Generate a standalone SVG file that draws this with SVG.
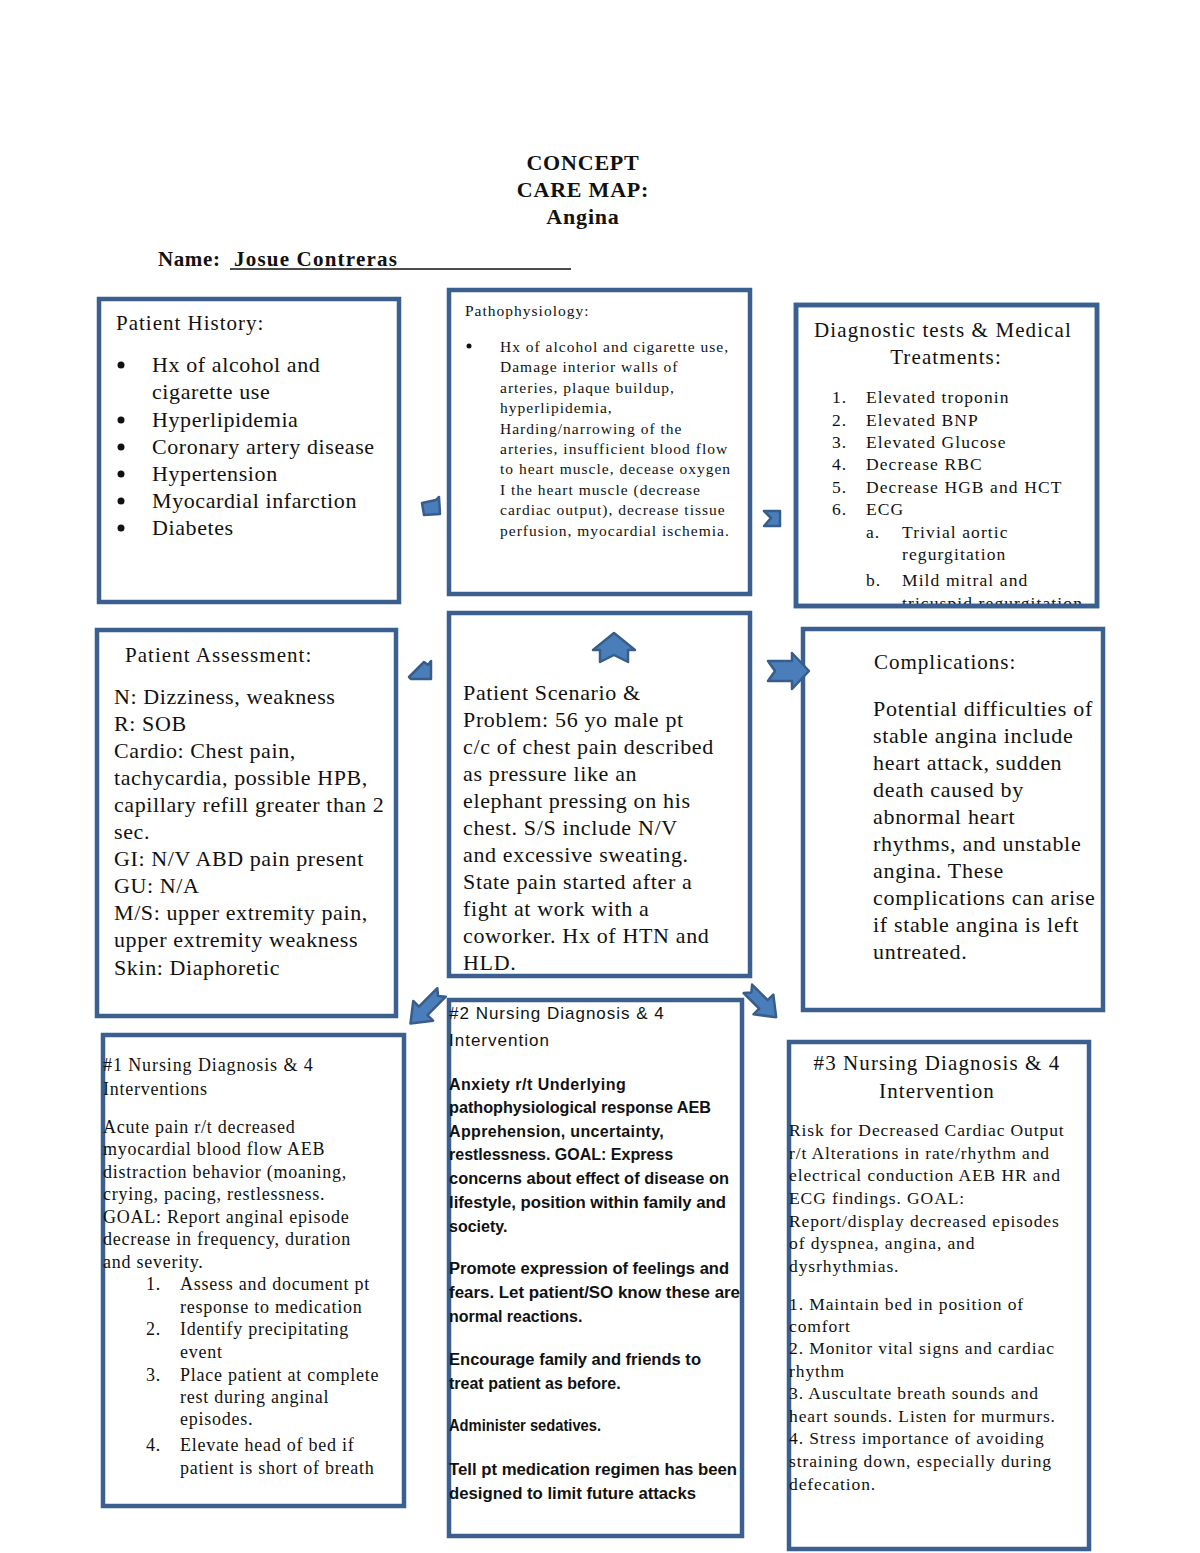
<svg xmlns="http://www.w3.org/2000/svg" width="1200" height="1553" viewBox="0 0 1200 1553">
<style>
.box{fill:#fff;stroke:#3b5f8f;stroke-width:4.5}
.arr{fill:#4a7ebb;stroke:#385d8a;stroke-width:2.5;stroke-linejoin:round}
.s{font-family:"Liberation Serif",serif;fill:#111}
.t{font-family:"Liberation Serif",serif;font-weight:bold;fill:#111}
.c{font-family:"Liberation Sans",Arial,sans-serif;fill:#111}
.cb{font-family:"Liberation Sans",Arial,sans-serif;font-weight:bold;fill:#111}
</style>
<defs>
<clipPath id="clipDiag"><rect x="796" y="305" width="301" height="299"/></clipPath>
</defs>
<rect width="1200" height="1553" fill="#fff"/>

<g id="title">
<text class="t" x="583" y="170" font-size="22" letter-spacing="0.8" text-anchor="middle">CONCEPT</text>
<text class="t" x="583" y="197" font-size="22" letter-spacing="0.8" text-anchor="middle">CARE MAP:</text>
<text class="t" x="583" y="224" font-size="22" letter-spacing="0.8" text-anchor="middle">Angina</text>
<text class="t" x="158" y="266" font-size="21" letter-spacing="0.6">Name:</text>
<text class="t" x="234" y="266" font-size="21" letter-spacing="1.2">Josue Contreras</text>
<line x1="230" y1="269" x2="571" y2="269" stroke="#111" stroke-width="1.5"/>
</g>

<g id="patient-history">
<rect class="box" x="99" y="299" width="300" height="303"/>
<text class="s" font-size="21" letter-spacing="1" x="116" y="330">Patient History:</text>
<g font-size="22" letter-spacing="0.6">
<circle cx="121" cy="365" r="3.5" fill="#111"/><text class="s" x="152" y="372">Hx of alcohol and</text>
<text class="s" x="152" y="399">cigarette use</text>
<circle cx="121" cy="420" r="3.5" fill="#111"/><text class="s" x="152" y="427">Hyperlipidemia</text>
<circle cx="121" cy="447" r="3.5" fill="#111"/><text class="s" x="152" y="454">Coronary artery disease</text>
<circle cx="121" cy="474" r="3.5" fill="#111"/><text class="s" x="152" y="481">Hypertension</text>
<circle cx="121" cy="501" r="3.5" fill="#111"/><text class="s" x="152" y="508">Myocardial infarction</text>
<circle cx="121" cy="528" r="3.5" fill="#111"/><text class="s" x="152" y="535">Diabetes</text>
</g>
</g>

<g id="pathophysiology">
<rect class="box" x="449" y="290" width="301" height="304"/>
<g font-size="15.5" letter-spacing="1">
<text class="s" x="465" y="316">Pathophysiology:</text>
<circle cx="469" cy="346" r="2.5" fill="#111"/>
<text class="s" x="500" y="352">Hx of alcohol and cigarette use,</text>
<text class="s" x="500" y="372">Damage interior walls of</text>
<text class="s" x="500" y="393">arteries, plaque buildup,</text>
<text class="s" x="500" y="413">hyperlipidemia,</text>
<text class="s" x="500" y="434">Harding/narrowing of the</text>
<text class="s" x="500" y="454">arteries, insufficient blood flow</text>
<text class="s" x="500" y="474">to heart muscle, decease oxygen</text>
<text class="s" x="500" y="495">I the heart muscle (decrease</text>
<text class="s" x="500" y="515">cardiac output), decrease tissue</text>
<text class="s" x="500" y="536">perfusion, myocardial ischemia.</text>
</g>
</g>

<g id="diagnostic">
<rect class="box" x="796" y="305" width="301" height="301"/>
<text class="s" font-size="21" letter-spacing="1.1" x="943" y="337" text-anchor="middle">Diagnostic tests &amp; Medical</text>
<text class="s" font-size="21" letter-spacing="1.1" x="946" y="364" text-anchor="middle">Treatments:</text>
<g clip-path="url(#clipDiag)" font-size="17.5" letter-spacing="1.1">
<text class="s" x="832" y="403">1.</text><text class="s" x="866" y="403">Elevated troponin</text>
<text class="s" x="832" y="426">2.</text><text class="s" x="866" y="426">Elevated BNP</text>
<text class="s" x="832" y="448">3.</text><text class="s" x="866" y="448">Elevated Glucose</text>
<text class="s" x="832" y="470">4.</text><text class="s" x="866" y="470">Decrease RBC</text>
<text class="s" x="832" y="493">5.</text><text class="s" x="866" y="493">Decrease HGB and HCT</text>
<text class="s" x="832" y="515">6.</text><text class="s" x="866" y="515">ECG</text>
<text class="s" x="866" y="538">a.</text><text class="s" x="902" y="538">Trivial aortic</text>
<text class="s" x="902" y="560">regurgitation</text>
<text class="s" x="866" y="586">b.</text><text class="s" x="902" y="586">Mild mitral and</text>
<text class="s" x="902" y="609">tricuspid regurgitation</text>
</g>
<rect x="796" y="305" width="301" height="301" fill="none" stroke="#3b5f8f" stroke-width="4.5"/>
</g>

<g id="patient-assessment">
<rect class="box" x="97" y="630" width="299" height="386"/>
<text class="s" font-size="21" letter-spacing="1.05" x="125" y="662">Patient Assessment:</text>
<g font-size="22" letter-spacing="0.6">
<text class="s" x="114" y="704">N: Dizziness, weakness</text>
<text class="s" x="114" y="731">R: SOB</text>
<text class="s" x="114" y="758">Cardio: Chest pain,</text>
<text class="s" x="114" y="785">tachycardia, possible HPB,</text>
<text class="s" x="114" y="812">capillary refill greater than 2</text>
<text class="s" x="114" y="839">sec.</text>
<text class="s" x="114" y="866">GI: N/V ABD pain present</text>
<text class="s" x="114" y="893">GU: N/A</text>
<text class="s" x="114" y="920">M/S: upper extremity pain,</text>
<text class="s" x="114" y="947">upper extremity weakness</text>
<text class="s" x="114" y="975">Skin: Diaphoretic</text>
</g>
</g>

<g id="patient-scenario">
<rect class="box" x="449" y="613" width="301" height="363"/>
<g font-size="22" letter-spacing="0.65">
<text class="s" x="463" y="700">Patient Scenario &amp;</text>
<text class="s" x="463" y="727">Problem: 56 yo male pt</text>
<text class="s" x="463" y="754">c/c of chest pain described</text>
<text class="s" x="463" y="781">as pressure like an</text>
<text class="s" x="463" y="808">elephant pressing on his</text>
<text class="s" x="463" y="835">chest. S/S include N/V</text>
<text class="s" x="463" y="862">and excessive sweating.</text>
<text class="s" x="463" y="889">State pain started after a</text>
<text class="s" x="463" y="916">fight at work with a</text>
<text class="s" x="463" y="943">coworker. Hx of HTN and</text>
<text class="s" x="463" y="970">HLD.</text>
</g>
</g>

<g id="complications">
<rect class="box" x="803" y="629" width="300" height="381"/>
<text class="s" font-size="21" letter-spacing="1" x="874" y="669">Complications:</text>
<g font-size="22" letter-spacing="0.7">
<text class="s" x="873" y="716">Potential difficulties of</text>
<text class="s" x="873" y="743">stable angina include</text>
<text class="s" x="873" y="770">heart attack, sudden</text>
<text class="s" x="873" y="797">death caused by</text>
<text class="s" x="873" y="824">abnormal heart</text>
<text class="s" x="873" y="851">rhythms, and unstable</text>
<text class="s" x="873" y="878">angina. These</text>
<text class="s" x="873" y="905">complications can arise</text>
<text class="s" x="873" y="932">if stable angina is left</text>
<text class="s" x="873" y="959">untreated.</text>
</g>
</g>

<g id="nursing-dx-1">
<rect class="box" x="103" y="1035" width="301" height="471"/>
<g font-size="18" letter-spacing="0.75">
<text class="s" x="103" y="1071" letter-spacing="0.9">#1 Nursing Diagnosis &amp; 4</text>
<text class="s" x="103" y="1095">Interventions</text>
<text class="s" x="103" y="1133">Acute pain r/t decreased</text>
<text class="s" x="103" y="1155">myocardial blood flow AEB</text>
<text class="s" x="103" y="1178">distraction behavior (moaning,</text>
<text class="s" x="103" y="1200">crying, pacing, restlessness.</text>
<text class="s" x="103" y="1223">GOAL: Report anginal episode</text>
<text class="s" x="103" y="1245">decrease in frequency, duration</text>
<text class="s" x="103" y="1268">and severity.</text>
<text class="s" x="146" y="1290">1.</text><text class="s" x="180" y="1290">Assess and document pt</text>
<text class="s" x="180" y="1313">response to medication</text>
<text class="s" x="146" y="1335">2.</text><text class="s" x="180" y="1335">Identify precipitating</text>
<text class="s" x="180" y="1358">event</text>
<text class="s" x="146" y="1381">3.</text><text class="s" x="180" y="1381">Place patient at complete</text>
<text class="s" x="180" y="1403">rest during anginal</text>
<text class="s" x="180" y="1425">episodes.</text>
<text class="s" x="146" y="1451">4.</text><text class="s" x="180" y="1451">Elevate head of bed if</text>
<text class="s" x="180" y="1474">patient is short of breath</text>
</g>
</g>

<g id="nursing-dx-2">
<rect class="box" x="449" y="1000" width="293" height="536"/>
<text class="c" font-size="17" letter-spacing="1" x="449" y="1019">#2 Nursing Diagnosis &amp; 4</text>
<text class="c" font-size="17" letter-spacing="1" x="449" y="1046">Intervention</text>
<g font-size="16">
<text class="cb" x="449" y="1090" letter-spacing="0.5">Anxiety r/t Underlying</text>
<text class="cb" x="449" y="1113" textLength="262" lengthAdjust="spacingAndGlyphs">pathophysiological response AEB</text>
<text class="cb" x="449" y="1137" letter-spacing="0.35">Apprehension, uncertainty,</text>
<text class="cb" x="449" y="1160">restlessness. GOAL: Express</text>
<text class="cb" x="449" y="1184" textLength="280" lengthAdjust="spacingAndGlyphs">concerns about effect of disease on</text>
<text class="cb" x="449" y="1208" textLength="277" lengthAdjust="spacingAndGlyphs">lifestyle, position within family and</text>
<text class="cb" x="449" y="1232">society.</text>
<text class="cb" x="449" y="1274" textLength="280" lengthAdjust="spacingAndGlyphs">Promote expression of feelings and</text>
<text class="cb" x="449" y="1298" textLength="291" lengthAdjust="spacingAndGlyphs">fears. Let patient/SO know these are</text>
<text class="cb" x="449" y="1322">normal reactions.</text>
<text class="cb" x="449" y="1365" textLength="252" lengthAdjust="spacingAndGlyphs">Encourage family and friends to</text>
<text class="cb" x="449" y="1389">treat patient as before.</text>
<text class="cb" x="449" y="1431" textLength="152" lengthAdjust="spacingAndGlyphs">Administer sedatives.</text>
<text class="cb" x="449" y="1475" textLength="288" lengthAdjust="spacingAndGlyphs">Tell pt medication regimen has been</text>
<text class="cb" x="449" y="1499" textLength="247" lengthAdjust="spacingAndGlyphs">designed to limit future attacks</text>
</g>
</g>

<g id="nursing-dx-3">
<rect class="box" x="789" y="1042" width="300" height="507"/>
<text class="s" font-size="21" letter-spacing="1.1" x="937" y="1070" text-anchor="middle">#3 Nursing Diagnosis &amp; 4</text>
<text class="s" font-size="21" letter-spacing="1.1" x="937" y="1098" text-anchor="middle">Intervention</text>
<g font-size="17.5" letter-spacing="0.9">
<text class="s" x="789" y="1136">Risk for Decreased Cardiac Output</text>
<text class="s" x="789" y="1159">r/t Alterations in rate/rhythm and</text>
<text class="s" x="789" y="1181">electrical conduction AEB HR and</text>
<text class="s" x="789" y="1204">ECG findings. GOAL:</text>
<text class="s" x="789" y="1227">Report/display decreased episodes</text>
<text class="s" x="789" y="1249">of dyspnea, angina, and</text>
<text class="s" x="789" y="1272">dysrhythmias.</text>
<text class="s" x="789" y="1310">1. Maintain bed in position of</text>
<text class="s" x="789" y="1332">comfort</text>
<text class="s" x="789" y="1354">2. Monitor vital signs and cardiac</text>
<text class="s" x="789" y="1377">rhythm</text>
<text class="s" x="789" y="1399">3. Auscultate breath sounds and</text>
<text class="s" x="789" y="1422">heart sounds. Listen for murmurs.</text>
<text class="s" x="789" y="1444">4. Stress importance of avoiding</text>
<text class="s" x="789" y="1467">straining down, especially during</text>
<text class="s" x="789" y="1490">defecation.</text>
</g>
</g>

<g id="connectors">
<polygon class="arr" points="422,503 436,500 439,497 440,514 424,515"/>
<polygon class="arr" points="764,511 780,511 780,526 764,526 771,518"/>
<polygon class="arr" points="614,633 635,650 628,650 628,662 614,655 600,662 600,650 593,650"/>
<polygon class="arr" points="409,677 424,662 428,665 431,661 431,679 411,679"/>
<polygon class="arr" points="768,661 792,661 792,653 809,671 792,689 792,681 768,681 775,671"/>
<polygon class="arr" transform="translate(426,1008) rotate(135)" points="-22,-6 4,-6 4,-14 22,0 4,14 4,6 -22,6 -17,0"/>
<polygon class="arr" transform="translate(762,1003) rotate(45)" points="-20,-6 2,-6 2,-14 20,0 2,14 2,6 -20,6 -15,0"/>
</g>
</svg>
